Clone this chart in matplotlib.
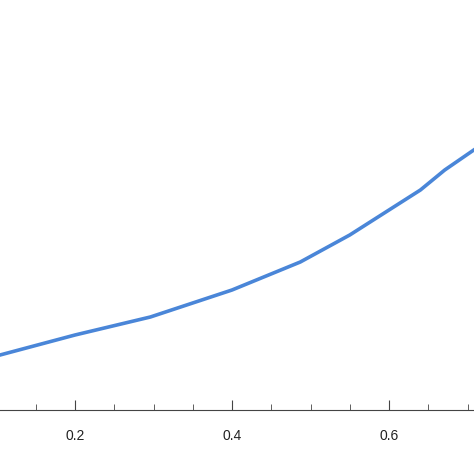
import matplotlib
matplotlib.use("Agg")
import matplotlib.pyplot as plt
import numpy as np

xs = [0.1045, 0.2, 0.296, 0.4, 0.487, 0.55, 0.6, 0.64, 0.671, 0.708]
ys = [119, 139, 157, 184, 212, 239, 264, 284, 304, 324]
xticks = [0.2, 0.4, 0.6]
xticklabels = ["0.2", "0.4", "0.6"]

fig = plt.figure(figsize=(4.74, 4.74), dpi=100)
ax = fig.add_axes([0, 0, 1, 1])
ax.plot(xs, ys, color="#4a86d8", lw=2.6)
ax.set_xlim(0.2 - 75/785, 0.2 + 399/785)
ax.set_ylim(0, 474)
for s in ["top", "right", "left"]:
    ax.spines[s].set_visible(False)
ax.spines["bottom"].set_position(("data", 64))
ax.spines["bottom"].set_color("#444444")
ax.set_yticks([])
ax.set_xticks(xticks)
ax.set_xticklabels(xticklabels, fontsize=10, color="#222222", family="Liberation Sans")
ax.set_xticks(np.arange(0.15, 0.71, 0.05), minor=True)
ax.tick_params(axis="x", which="major", direction="in", length=7, color="#444444", pad=14)
ax.tick_params(axis="x", which="minor", direction="in", length=4, color="#444444")
fig.savefig("out.png", dpi=100)
